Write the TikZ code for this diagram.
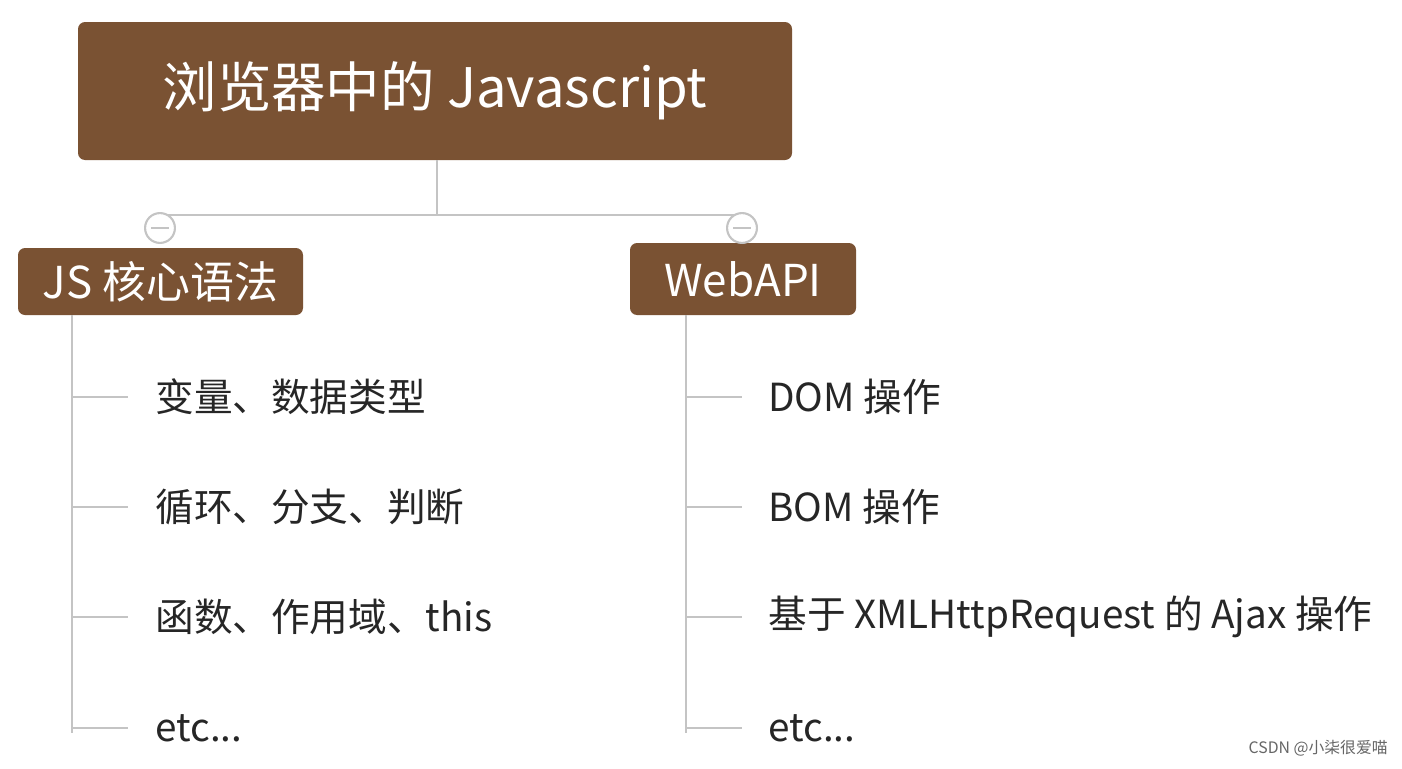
\documentclass[tikz,border=0pt]{standalone}
\usepackage{fontspec}
\setmainfont{Noto Sans CJK SC}
\definecolor{brn}{HTML}{7A5233}
\definecolor{ln}{HTML}{C4C4C4}
\begin{document}
\begin{tikzpicture}[x=0.02cm,y=-0.02cm,
  box/.style={fill=brn,rounded corners=4pt,text=white,inner sep=0pt},
  conn/.style={draw=ln,line width=1.5pt},
  item/.style={anchor=west,inner sep=0pt,font=\fontsize{22}{26}\selectfont,text=black!85},
  mk/.style={circle,draw=ln,fill=white,line width=1.2pt,minimum size=17pt,inner sep=0pt}]
\useasboundingbox (0,0) rectangle (1402,768);
\fill[white] (0,0) rectangle (1402,768);
\node[box,minimum width=714*0.02cm,minimum height=138*0.02cm,font=\fontsize{31}{36}\selectfont] (top) at (435,91) {浏览器中的 Javascript};
\node[box,minimum width=285*0.02cm,minimum height=67*0.02cm,font=\fontsize{25}{29}\selectfont] (js) at (160.5,281.5) {JS 核心语法};
\node[box,minimum width=226*0.02cm,minimum height=72*0.02cm,font=\fontsize{25}{29}\selectfont] (web) at (743,279) {WebAPI};
\coordinate (j) at (437,215);
\coordinate (hl) at (160,215);
\coordinate (hr) at (742,215);
\draw[conn] (top.south -| j) -- (j);
\draw[conn] (hl) -- (hr);
\node[mk] (cl) at (160,228) {};
\node[mk] (cr) at (742,228) {};
\draw[conn,line width=1.2pt] ([xshift=-5pt]cl.center) -- ([xshift=5pt]cl.center);
\draw[conn,line width=1.2pt] ([xshift=-5pt]cr.center) -- ([xshift=5pt]cr.center);
\coordinate (lt) at (72,315); \coordinate (lb) at (72,733);
\draw[conn] (lt) -- (lb);
\coordinate (rt) at (686,315); \coordinate (rb) at (686,733);
\draw[conn] (rt) -- (rb);
\foreach \y/\t [count=\i] in {397/{变量、数据类型},507/{循环、分支、判断},617/{函数、作用域、this},728/{etc...}}{
  \coordinate (la\i) at (72,\y); \coordinate (lz\i) at (128,\y);
  \draw[conn] (la\i) -- (lz\i);
  \node[item] (l\i) at (155,\y) {\t};
}
\foreach \y/\t [count=\i] in {397/{DOM 操作},507/{BOM 操作},617/{基于 XMLHttpRequest 的 Ajax 操作},728/{etc...}}{
  \coordinate (ra\i) at (686,\y); \coordinate (rz\i) at (742,\y);
  \draw[conn] (ra\i) -- (rz\i);
  \node[item] (r\i) at (768,\y) {\t};
}
\node[anchor=east,inner sep=0pt,font=\fontsize{9}{11}\selectfont,text=black!60] (wm) at (1388,748) {CSDN @小柒很爱喵};
\end{tikzpicture}
\end{document}
